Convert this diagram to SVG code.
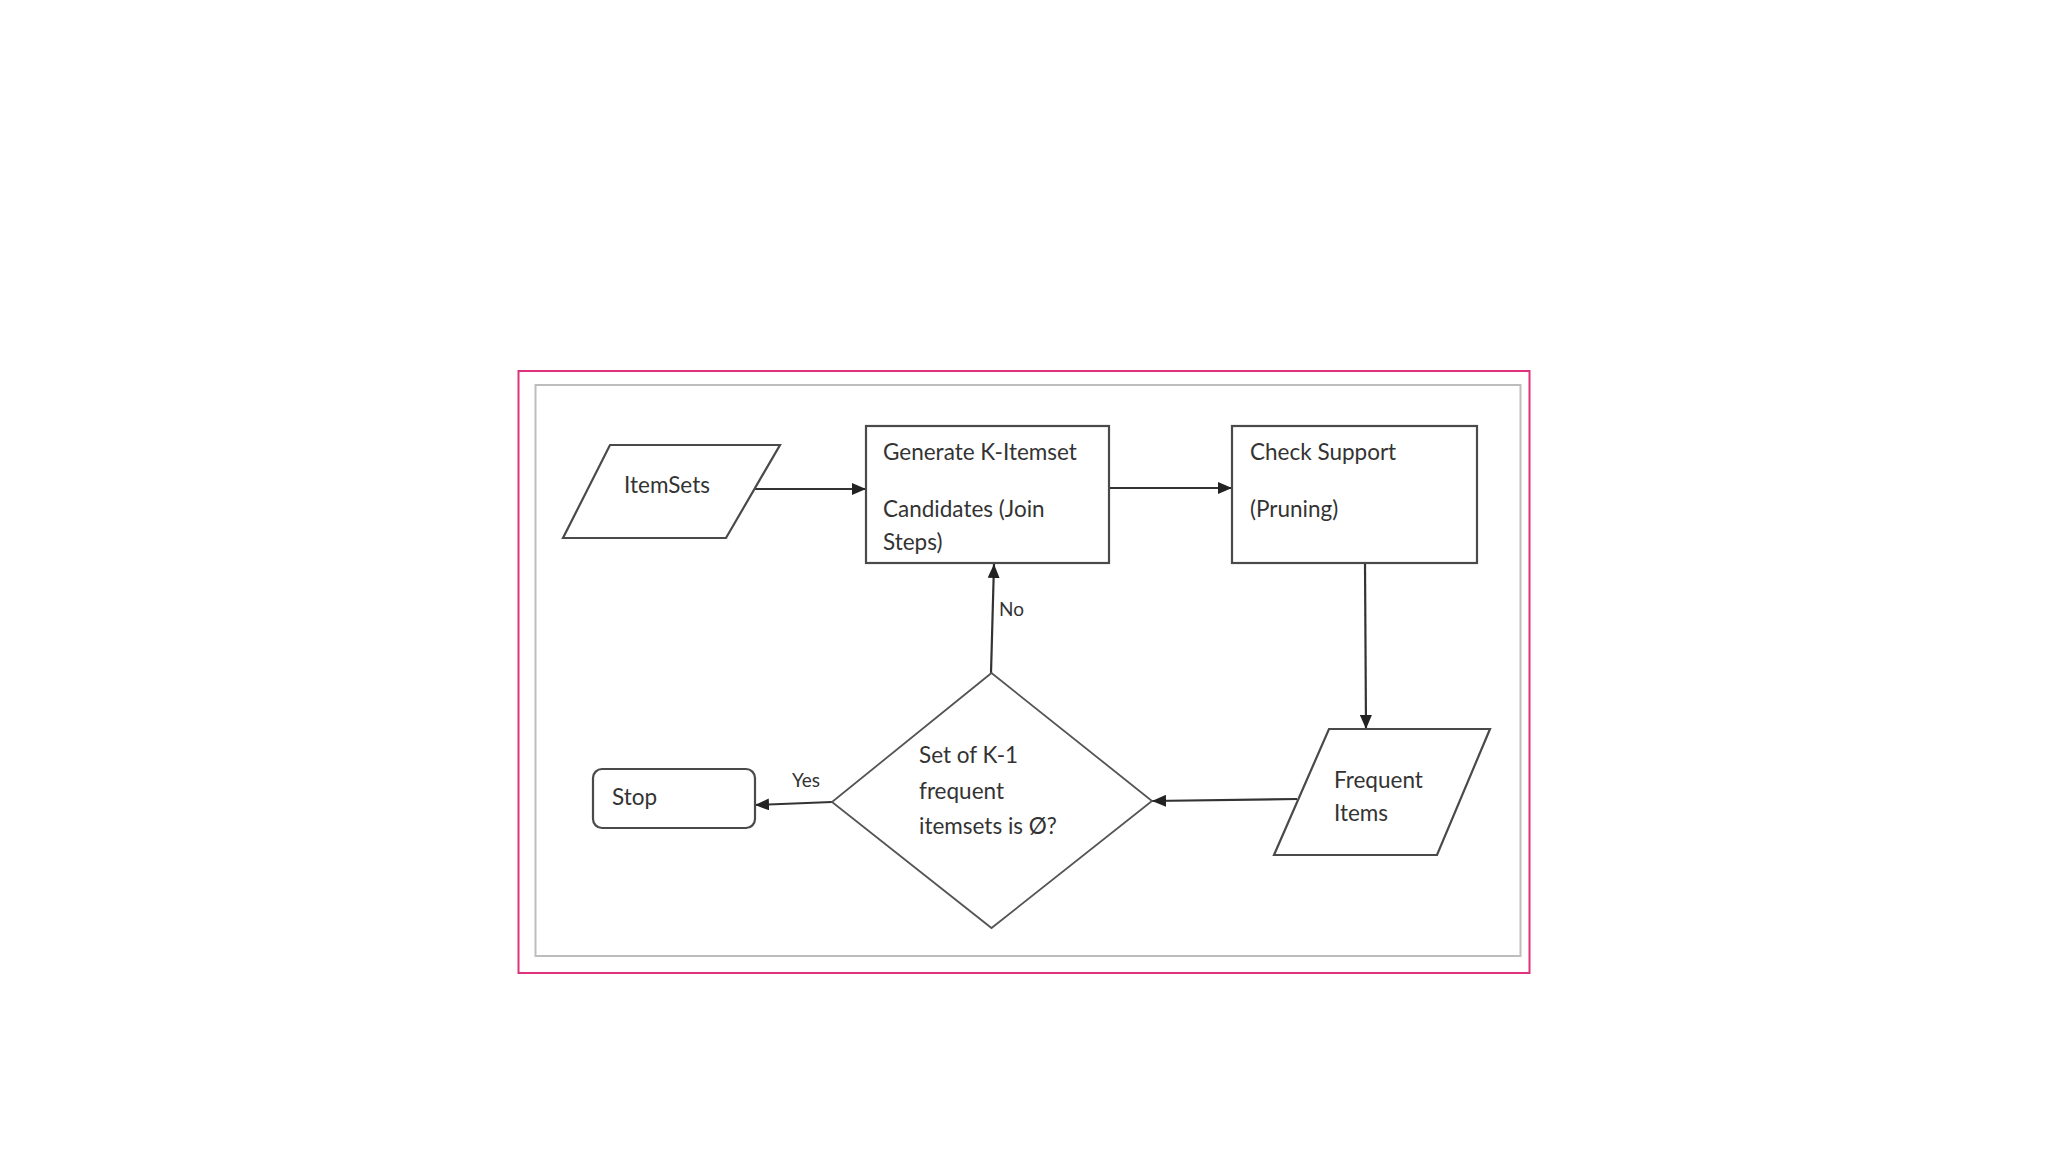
<svg xmlns="http://www.w3.org/2000/svg" width="2048" height="1152" viewBox="0 0 2048 1152">
<style>
.shape{fill:#fff;stroke:#4a4a4a;stroke-width:2.2}
.conn{fill:none;stroke:#333;stroke-width:2.2}
.t{font-family:Lato,"Open Sans","Liberation Sans",sans-serif;font-size:22.5px;fill:#333}
.lbl{font-family:Lato,"Open Sans","Liberation Sans",sans-serif;font-size:19px;fill:#333}
</style>
<defs>
<marker id="arr" markerUnits="userSpaceOnUse" markerWidth="14" markerHeight="12" refX="14" refY="6" orient="auto">
<path d="M0,0 L14,6 L0,12 z" fill="#222"/>
</marker>
</defs>
<rect width="2048" height="1152" fill="#fff"/>
<rect x="518.5" y="371" width="1011" height="602" fill="none" stroke="#e0317c" stroke-width="2"/>
<rect x="535.5" y="385" width="985" height="571" fill="none" stroke="#bdbdbd" stroke-width="2"/>

<g id="connectors">
<path class="conn" d="M755,489 L866,489" marker-end="url(#arr)"/>
<path class="conn" d="M1109,488 L1232,488" marker-end="url(#arr)"/>
<path class="conn" d="M1365,563 L1366,729" marker-end="url(#arr)"/>
<path class="conn" d="M1297,799 L1152,801" marker-end="url(#arr)"/>
<path class="conn" d="M832,802 L755,805" marker-end="url(#arr)"/>
<path class="conn" d="M991,673 L994,564" marker-end="url(#arr)"/>
<text class="lbl" x="999" y="616">No</text>
<text class="lbl" x="792" y="787">Yes</text>
</g>

<g id="itemsets">
<polygon class="shape" points="610,445 780,445 726,538 563,538"/>
<text class="t" x="667" y="493" text-anchor="middle">ItemSets</text>
</g>

<g id="generate">
<rect class="shape" x="866" y="426" width="243" height="137"/>
<text class="t" x="883" y="460">Generate K-Itemset</text>
<text class="t" x="883" y="517">Candidates (Join</text>
<text class="t" x="883" y="550">Steps)</text>
</g>

<g id="check">
<rect class="shape" x="1232" y="426" width="245" height="137"/>
<text class="t" x="1250" y="460">Check Support</text>
<text class="t" x="1250" y="517">(Pruning)</text>
</g>

<g id="frequent">
<polygon class="shape" points="1329,729 1490,729 1437,855 1274,855"/>
<text class="t" x="1334" y="788">Frequent</text>
<text class="t" x="1334" y="821">Items</text>
</g>

<g id="decision">
<polygon class="shape" points="991.5,673 1152,801 991.5,928 832,802" style="stroke:#555;stroke-width:1.8"/>
<text class="t" x="919" y="763">Set of K-1</text>
<text class="t" x="919" y="799">frequent</text>
<text class="t" x="919" y="834">itemsets is Ø?</text>
</g>

<g id="stop">
<rect class="shape" x="593" y="769" width="162" height="59" rx="9" ry="9"/>
<text class="t" x="612" y="805">Stop</text>
</g>
</svg>
